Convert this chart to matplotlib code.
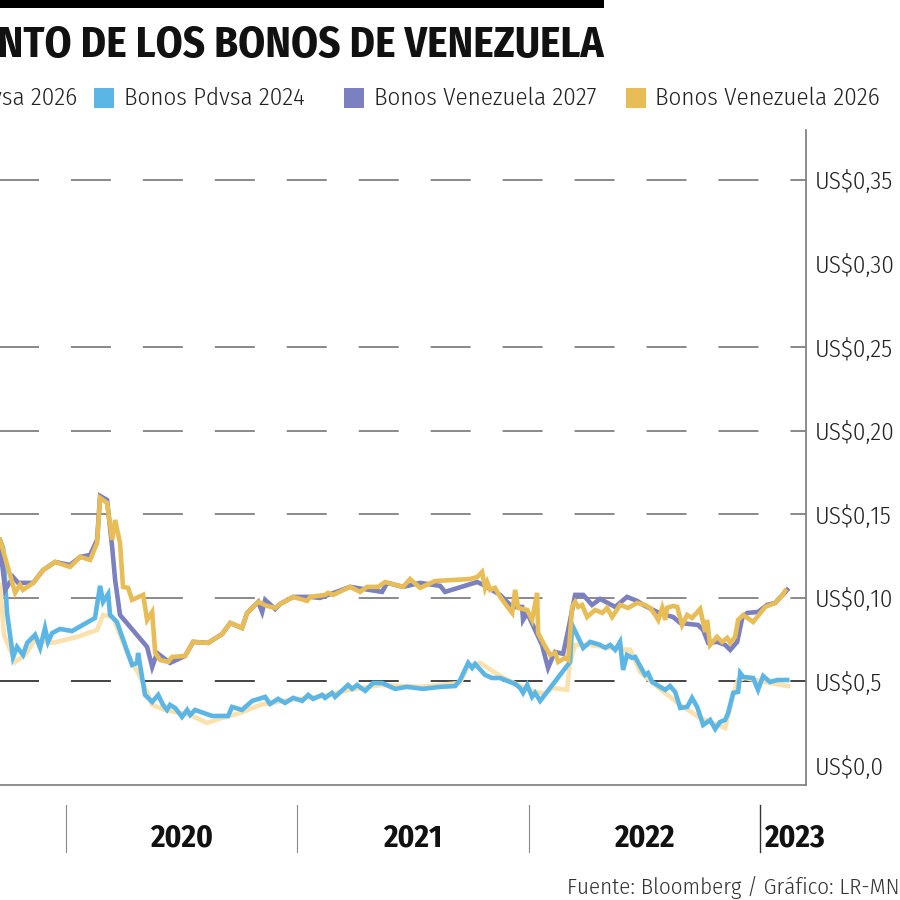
import matplotlib
matplotlib.use("Agg")
import matplotlib.pyplot as plt
from matplotlib import font_manager as fm
from matplotlib.patches import Rectangle
from matplotlib.transforms import blended_transform_factory

# --- data (x in decimal years, y in US$) ---
pdvsa26_x = [2019.717, 2019.734, 2019.782, 2019.825, 2019.868, 2019.946, 2020.050, 2020.136, 2020.162, 2020.205,
             2020.266, 2020.313, 2020.335, 2020.374, 2020.430, 2020.538, 2020.611, 2020.676, 2020.754, 2020.840,
             2020.970, 2021.099, 2021.229, 2021.359, 2021.531, 2021.704, 2021.739, 2021.791, 2021.877, 2021.963,
             2022.028, 2022.071, 2022.102, 2022.166, 2022.179, 2022.201, 2022.266, 2022.352, 2022.439, 2022.482,
             2022.547, 2022.655, 2022.741, 2022.849, 2022.884, 2022.905, 2022.935, 2023.043, 2023.121]
pdvsa26_y = [0.1077, 0.0778, 0.0616, 0.0658, 0.0748, 0.0730, 0.0766, 0.0807, 0.0897, 0.0885,
             0.0670, 0.0550, 0.0490, 0.0359, 0.0329, 0.0299, 0.0251, 0.0281, 0.0311, 0.0359,
             0.0389, 0.0407, 0.0449, 0.0478, 0.0467, 0.0490, 0.0592, 0.0610, 0.0532, 0.0472,
             0.0437, 0.0425, 0.0461, 0.0449, 0.0616, 0.0718, 0.0718, 0.0700, 0.0688, 0.0556,
             0.0478, 0.0359, 0.0281, 0.0221, 0.0419, 0.0508, 0.0520, 0.0490, 0.0472]

pdvsa24_x = [2019.717, 2019.730, 2019.747, 2019.773, 2019.790, 2019.816, 2019.834, 2019.868, 2019.890, 2019.911,
             2019.924, 2019.942, 2019.976, 2020.028, 2020.127, 2020.149, 2020.162, 2020.184, 2020.192, 2020.222,
             2020.287, 2020.309, 2020.313, 2020.343, 2020.374, 2020.400, 2020.421, 2020.438, 2020.451, 2020.473,
             2020.503, 2020.525, 2020.538, 2020.559, 2020.633, 2020.702, 2020.719, 2020.762, 2020.806, 2020.862,
             2020.883, 2020.918, 2020.948, 2020.983, 2021.022, 2021.048, 2021.069, 2021.108, 2021.121, 2021.151,
             2021.164, 2021.220, 2021.238, 2021.259, 2021.294, 2021.328, 2021.367, 2021.423, 2021.475, 2021.544,
             2021.618, 2021.683, 2021.704, 2021.739, 2021.756, 2021.769, 2021.812, 2021.842, 2021.877, 2021.942,
             2021.963, 2021.976, 2021.994, 2022.015, 2022.028, 2022.050, 2022.179, 2022.188, 2022.236, 2022.266,
             2022.309, 2022.331, 2022.352, 2022.374, 2022.395, 2022.408, 2022.425, 2022.447, 2022.460, 2022.503,
             2022.516, 2022.534, 2022.590, 2022.611, 2022.633, 2022.655, 2022.685, 2022.706, 2022.728, 2022.754,
             2022.784, 2022.806, 2022.827, 2022.849, 2022.862, 2022.884, 2022.905, 2022.914, 2022.927, 2022.970,
             2022.991, 2023.013, 2023.043, 2023.074, 2023.117]
pdvsa24_y = [0.1346, 0.1298, 0.0909, 0.0646, 0.0706, 0.0658, 0.0730, 0.0778, 0.0700, 0.0819,
             0.0736, 0.0789, 0.0813, 0.0801, 0.0879, 0.1071, 0.0975, 0.1023, 0.0897, 0.0855,
             0.0598, 0.0610, 0.0670, 0.0419, 0.0377, 0.0419, 0.0359, 0.0329, 0.0359, 0.0341,
             0.0287, 0.0329, 0.0299, 0.0329, 0.0293, 0.0293, 0.0347, 0.0329, 0.0383, 0.0407,
             0.0365, 0.0395, 0.0371, 0.0401, 0.0383, 0.0419, 0.0395, 0.0419, 0.0401, 0.0431,
             0.0407, 0.0478, 0.0455, 0.0478, 0.0443, 0.0490, 0.0490, 0.0455, 0.0467, 0.0455,
             0.0467, 0.0472, 0.0508, 0.0610, 0.0580, 0.0604, 0.0538, 0.0520, 0.0520, 0.0484,
             0.0461, 0.0431, 0.0478, 0.0407, 0.0431, 0.0383, 0.0616, 0.0837, 0.0700, 0.0736,
             0.0718, 0.0700, 0.0718, 0.0688, 0.0736, 0.0568, 0.0658, 0.0640, 0.0646, 0.0538,
             0.0550, 0.0496, 0.0449, 0.0472, 0.0437, 0.0341, 0.0347, 0.0401, 0.0347, 0.0239,
             0.0269, 0.0215, 0.0257, 0.0269, 0.0311, 0.0431, 0.0437, 0.0550, 0.0526, 0.0520,
             0.0449, 0.0532, 0.0496, 0.0508, 0.0508]

ven27_x = [2019.717, 2019.739, 2019.773, 2019.795, 2019.860, 2019.903, 2019.955, 2020.019, 2020.063, 2020.106,
           2020.136, 2020.149, 2020.179, 2020.201, 2020.214, 2020.235, 2020.352, 2020.374, 2020.395, 2020.451,
           2020.516, 2020.551, 2020.616, 2020.676, 2020.711, 2020.762, 2020.784, 2020.832, 2020.849, 2020.862,
           2020.905, 2020.927, 2020.983, 2021.056, 2021.099, 2021.229, 2021.367, 2021.389, 2021.458, 2021.531,
           2021.618, 2021.639, 2021.778, 2021.804, 2021.877, 2021.929, 2021.972, 2021.976, 2021.994, 2022.028,
           2022.058, 2022.084, 2022.102, 2022.115, 2022.149, 2022.171, 2022.201, 2022.236, 2022.274, 2022.309,
           2022.374, 2022.425, 2022.469, 2022.495, 2022.555, 2022.590, 2022.624, 2022.655, 2022.732, 2022.754,
           2022.776, 2022.814, 2022.849, 2022.871, 2022.901, 2022.923, 2022.944, 2022.991, 2023.030, 2023.065,
           2023.117]
ven27_y = [0.1304, 0.1047, 0.1124, 0.1089, 0.1089, 0.1166, 0.1214, 0.1196, 0.1244, 0.1256,
           0.1346, 0.1609, 0.1585, 0.1304, 0.1106, 0.0897, 0.0706, 0.0586, 0.0670, 0.0610,
           0.0652, 0.0736, 0.0730, 0.0783, 0.0849, 0.0819, 0.0909, 0.0975, 0.0915, 0.0987,
           0.0933, 0.0963, 0.1005, 0.1005, 0.0999, 0.1065, 0.1035, 0.1089, 0.1065, 0.1089,
           0.1071, 0.1035, 0.1094, 0.1077, 0.1017, 0.0945, 0.0945, 0.0867, 0.0909, 0.0807,
           0.0718, 0.0580, 0.0640, 0.0676, 0.0664, 0.0807, 0.1017, 0.1017, 0.0957, 0.0993,
           0.0945, 0.1005, 0.0981, 0.0957, 0.0915, 0.0897, 0.0885, 0.0849, 0.0837, 0.0807,
           0.0730, 0.0736, 0.0718, 0.0688, 0.0736, 0.0879, 0.0909, 0.0915, 0.0957, 0.0969,
           0.1047]

ven26_x = [2019.717, 2019.782, 2019.803, 2019.816, 2019.860, 2019.903, 2019.955, 2020.019, 2020.063, 2020.106,
           2020.136, 2020.149, 2020.179, 2020.201, 2020.214, 2020.235, 2020.248, 2020.270, 2020.287, 2020.335,
           2020.352, 2020.374, 2020.387, 2020.408, 2020.443, 2020.460, 2020.516, 2020.551, 2020.616, 2020.676,
           2020.711, 2020.762, 2020.784, 2020.832, 2020.870, 2020.905, 2020.927, 2020.983, 2021.043, 2021.056,
           2021.121, 2021.134, 2021.156, 2021.229, 2021.272, 2021.302, 2021.350, 2021.380, 2021.458, 2021.488,
           2021.531, 2021.596, 2021.747, 2021.778, 2021.799, 2021.812, 2021.821, 2021.834, 2021.855, 2021.877,
           2021.912, 2021.929, 2021.942, 2021.955, 2021.994, 2022.015, 2022.037, 2022.041, 2022.063, 2022.093,
           2022.115, 2022.128, 2022.158, 2022.171, 2022.188, 2022.201, 2022.214, 2022.231, 2022.253, 2022.287,
           2022.318, 2022.339, 2022.361, 2022.395, 2022.430, 2022.469, 2022.503, 2022.525, 2022.547, 2022.560,
           2022.577, 2022.590, 2022.598, 2022.624, 2022.642, 2022.663, 2022.685, 2022.706, 2022.741, 2022.763,
           2022.771, 2022.784, 2022.814, 2022.836, 2022.858, 2022.871, 2022.892, 2022.905, 2022.927, 2022.970,
           2023.022, 2023.065, 2023.087, 2023.108]
ven26_y = [0.1346, 0.1029, 0.1077, 0.1047, 0.1089, 0.1166, 0.1214, 0.1184, 0.1244, 0.1226,
           0.1328, 0.1597, 0.1567, 0.1346, 0.1465, 0.1328, 0.1065, 0.1059, 0.0987, 0.1017,
           0.0867, 0.0915, 0.0670, 0.0628, 0.0616, 0.0646, 0.0652, 0.0736, 0.0730, 0.0783,
           0.0849, 0.0819, 0.0909, 0.0975, 0.0951, 0.0939, 0.0963, 0.1005, 0.0981, 0.1005,
           0.1017, 0.1029, 0.1017, 0.1065, 0.1035, 0.1065, 0.1065, 0.1094, 0.1065, 0.1112,
           0.1059, 0.1100, 0.1112, 0.1124, 0.1154, 0.1059, 0.1094, 0.1047, 0.1059, 0.1005,
           0.0939, 0.0909, 0.1047, 0.0939, 0.0927, 0.0867, 0.1029, 0.0789, 0.0730, 0.0658,
           0.0670, 0.0616, 0.0640, 0.0628, 0.0945, 0.0975, 0.0945, 0.0957, 0.0885, 0.0927,
           0.0909, 0.0939, 0.0885, 0.0957, 0.0939, 0.0969, 0.0957, 0.0939, 0.0897, 0.0867,
           0.0939, 0.0867, 0.0939, 0.0951, 0.0945, 0.0837, 0.0897, 0.0879, 0.0933, 0.0795,
           0.0867, 0.0718, 0.0766, 0.0736, 0.0760, 0.0730, 0.0766, 0.0867, 0.0897, 0.0855,
           0.0945, 0.0969, 0.0999, 0.1041]

series_names = ["Bonos Pdvsa 2026", "Bonos Pdvsa 2024", "Bonos Venezuela 2027", "Bonos Venezuela 2026"]
series_colors = ["#fbe1ad", "#5bb6e6", "#7b80c0", "#e8bd56"]

y_ticks = [0.0, 0.05, 0.10, 0.15, 0.20, 0.25, 0.30, 0.35]
y_labels = ["US$0,0", "US$0,5", "US$0,10", "US$0,15", "US$0,20", "US$0,25", "US$0,30", "US$0,35"]
grid_levels = [0.05, 0.10, 0.15, 0.20, 0.25, 0.35]
year_bounds = [2020, 2021, 2022, 2023]
year_labels = ["2020", "2021", "2022", "2023"]
year_label_pos = [2020.5, 2021.5, 2022.5, 2023.015]

# --- fonts ---
names = {f.name for f in fm.fontManager.ttflist}
cond = "Fira Sans Condensed" if "Fira Sans Condensed" in names else "DejaVu Sans"

plt.rcParams["lines.scale_dashes"] = False

W = H = 900
fig = plt.figure(figsize=(9, 9), dpi=100)


def fx(px):
    return px / W


def fy(py):
    return 1 - py / H


# axes: the original chart is cropped on the left, so the axes start off-canvas
ax = fig.add_axes([fx(-27), fy(785), fx(833.4), 655.4 / H])
ax.set_xlim(2019.6, 2023.2)
ax.set_ylim(-0.012, 0.38)

for lv in grid_levels:
    ax.axhline(lv, color="#111111" if lv == 0.05 else "#6a6a6a", lw=1.1,
               linestyle=(0, (28.8, 23.0)), zorder=1)

xs = [pdvsa26_x, pdvsa24_x, ven27_x, ven26_x]
ys = [pdvsa26_y, pdvsa24_y, ven27_y, ven26_y]
for i in range(4):
    ax.plot(xs[i], ys[i], color=series_colors[i], lw=3.3, solid_joinstyle="miter", zorder=2 + i)

for s in ["left", "top"]:
    ax.spines[s].set_visible(False)
for s in ["right", "bottom"]:
    ax.spines[s].set_color("#7a7a7a")
    ax.spines[s].set_linewidth(1.2)

ax.yaxis.tick_right()
ax.set_yticks(y_ticks)
ax.set_yticklabels(y_labels, fontfamily=cond, fontweight=300, fontsize=18, color="#222222")
ax.tick_params(axis="y", length=0, pad=6)
ax.set_xticks([])

# year separators and labels below the axes
tr = blended_transform_factory(ax.transData, ax.transAxes)
for i, yb in enumerate(year_bounds):
    ax.plot([yb, yb], [-0.0305, -0.1022], transform=tr, clip_on=False,
            color="#333333" if yb == 2023 else "#8a8a8a", lw=1.0 if yb == 2023 else 0.8)
    ax.text(year_label_pos[i], -0.081, year_labels[i], transform=tr,
            ha="left" if yb == 2023 else "center", va="center",
            fontfamily=cond, fontweight="bold", fontsize=22.5, color="#111111")

# header bar and title
fig.add_artist(Rectangle((0, fy(8)), fx(604), 8 / H, transform=fig.transFigure,
                         color="black", lw=0))
fig.text(fx(604), fy(46), "COMPORTAMIENTO DE LOS BONOS DE VENEZUELA", ha="right", va="center",
         fontfamily=cond, fontweight="bold", fontsize=31, color="#111111")

# legend
sq_left = [-80, 94, 344, 626]
txt_left = [-58, 124, 374, 655]
for i in range(4):
    fig.add_artist(Rectangle((fx(sq_left[i]), fy(108)), 20 / W, 20 / H, transform=fig.transFigure,
                             color=series_colors[i], lw=0))
fig.text(fx(77), fy(98), series_names[0], ha="right", va="center",
         fontfamily=cond, fontweight=300, fontsize=18, color="#222222")
for i in range(1, 4):
    fig.text(fx(txt_left[i]), fy(98), series_names[i], ha="left", va="center",
             fontfamily=cond, fontweight=300, fontsize=18, color="#222222")

fig.text(fx(567), fy(887), "Fuente: Bloomberg / Gráfico: LR-MN", ha="left", va="center",
         fontfamily=cond, fontweight=300, fontsize=16.5, color="#333333")

fig.savefig("out.png", dpi=100)
